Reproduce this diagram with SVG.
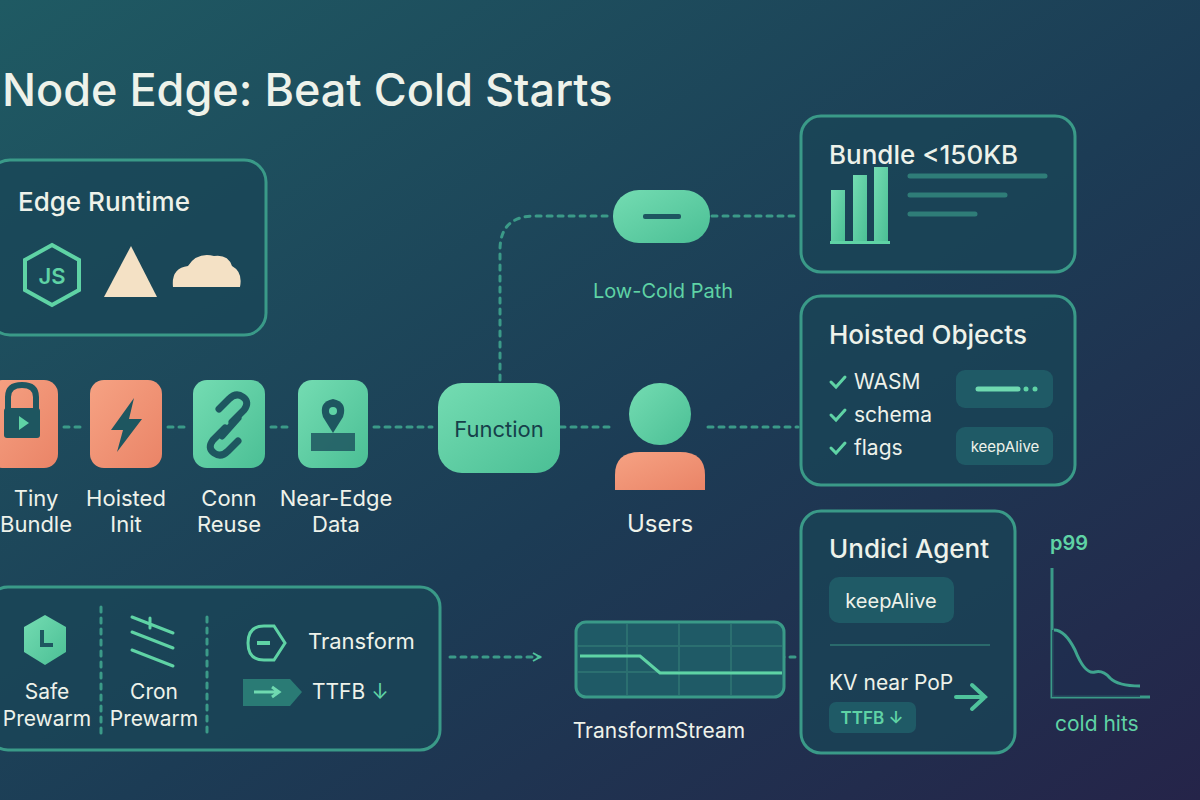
<svg xmlns="http://www.w3.org/2000/svg" width="1200" height="800" viewBox="0 0 1200 800">
<defs>
<linearGradient id="bg" x1="0" y1="0" x2="1" y2="1"><stop offset="0" stop-color="#1f5a63"/><stop offset="0.55" stop-color="#1c3c55"/><stop offset="1" stop-color="#252449"/></linearGradient>
<linearGradient id="gr" x1="0" y1="0" x2="1" y2="1"><stop offset="0" stop-color="#74dcb2"/><stop offset="1" stop-color="#4bbf95"/></linearGradient>
<linearGradient id="sa" x1="0" y1="0" x2="1" y2="1"><stop offset="0" stop-color="#f6a283"/><stop offset="1" stop-color="#ea8467"/></linearGradient>
<marker id="chev" viewBox="0 0 10 10" refX="8" refY="5" markerWidth="10" markerHeight="10" markerUnits="userSpaceOnUse" orient="auto"><path d="M1 1 L8 5 L1 9" fill="none" stroke="#4fc39c" stroke-width="2"/></marker>
<style>
.box{fill:#1a4657;fill-opacity:.75;stroke:#3a9a88;stroke-width:3}
.t{font-family:Inter,"Noto Sans",sans-serif;fill:#eef2ea}
.g{fill:#5fd3a5}
.dot{fill:none;stroke:#3b9a88;stroke-width:3;stroke-dasharray:5 6;stroke-linecap:round}
.pill{fill:#1f5a66}
.ln{stroke:#2f7d78;stroke-width:5;stroke-linecap:round}
</style>
</defs>
<rect width="1200" height="800" fill="url(#bg)"/>
<text class="t" x="2" y="106" font-size="45" font-weight="500">Node Edge: Beat Cold Starts</text>

<g id="connectors">
<path class="dot" d="M64 427H84M168 427H187M271 427H292M374 427H432M560 427H612M708 427H798"/>
<path class="dot" d="M500 380V250Q500 216 535 216H612M712 216H798"/>
<path class="dot" d="M450 657H540" marker-end="url(#chev)"/>
<path class="dot" d="M768 657H798"/>
</g>

<g id="edge-runtime">
<rect class="box" x="-12" y="160" width="278" height="175" rx="22"/>
<text class="t" x="18" y="211" font-size="26" font-weight="500">Edge Runtime</text>
<polygon points="52,245 79,260 79,290 52,305 25,290 25,260" fill="none" stroke="#5fd3a5" stroke-width="4"/>
<text x="52" y="284" font-family="Inter,sans-serif" font-size="22" text-anchor="middle" fill="#5fd3a5" font-weight="600">JS</text>
<polygon points="131,246 157,297 104,297" fill="#f4e1c5"/>
<path d="M173 287Q171 268 188 266Q197 252 214 256Q228 254 232 266Q243 272 240 287Z" fill="#f4e1c5"/>
</g>

<g id="tiny-bundle">
<rect x="-12" y="380" width="70" height="88" rx="14" fill="url(#sa)"/>
<path d="M8 410V397Q8 385 22 385Q36 385 36 397V410" fill="none" stroke="#1e5660" stroke-width="6"/>
<rect x="4" y="408" width="36" height="30" rx="3" fill="#1e5660"/>
<polygon points="19,416 29,423 19,430" fill="#5fd3a5"/>
<text class="t" x="36" y="506" font-size="22" text-anchor="middle">Tiny</text>
<text class="t" x="36" y="532" font-size="22" text-anchor="middle">Bundle</text>
</g>
<g id="hoisted-init">
<rect x="90" y="380" width="72" height="88" rx="14" fill="url(#sa)"/>
<polygon points="134,398 111,430 123,430 117,452 142,419 129,419" fill="#1e5660"/>
<text class="t" x="126" y="506" font-size="22" text-anchor="middle">Hoisted</text>
<text class="t" x="126" y="532" font-size="22" text-anchor="middle">Init</text>
</g>
<g id="conn-reuse">
<rect x="193" y="380" width="72" height="88" rx="14" fill="url(#gr)"/>
<g fill="none" stroke="#1e5660" stroke-width="7" stroke-linecap="round">
<path d="M225 428L213 440Q207 448 214 453Q221 458 228 451L238 441"/>
<path d="M232 422L244 410Q250 402 243 397Q236 392 229 399L219 409"/>
<path d="M222 436L238 418"/>
</g>
<text class="t" x="229" y="506" font-size="22" text-anchor="middle">Conn</text>
<text class="t" x="229" y="532" font-size="22" text-anchor="middle">Reuse</text>
</g>
<g id="near-edge-data">
<rect x="298" y="380" width="70" height="88" rx="14" fill="url(#gr)"/>
<path d="M333 433L323 417Q318 402 333 399Q348 402 343 417Z" fill="#1e5660"/>
<circle cx="333" cy="411" r="4" fill="#5fd3a5"/>
<rect x="311" y="433" width="44" height="18" fill="#1e5660" opacity=".85"/>
<text class="t" x="336" y="506" font-size="22" text-anchor="middle">Near-Edge</text>
<text class="t" x="336" y="532" font-size="22" text-anchor="middle">Data</text>
</g>

<g id="function">
<rect x="438" y="383" width="122" height="90" rx="24" fill="url(#gr)"/>
<text x="499" y="437" font-family="Inter,sans-serif" font-size="22" text-anchor="middle" fill="#163f4a">Function</text>
</g>

<g id="low-cold-path">
<rect x="613" y="190" width="97" height="53" rx="26" fill="url(#gr)"/>
<rect x="643" y="214" width="38" height="5" rx="2" fill="#1e5660"/>
<text x="663" y="298" font-family="Inter,sans-serif" font-size="20" text-anchor="middle" fill="#5fd3a5">Low-Cold Path</text>
</g>

<g id="users">
<circle cx="660" cy="414" r="31" fill="url(#gr)"/>
<path d="M615 490V475Q615 452 640 452H680Q705 452 705 475V490Z" fill="url(#sa)"/>
<text class="t" x="660" y="532" font-size="24" text-anchor="middle">Users</text>
</g>

<g id="bundle">
<rect class="box" x="801" y="116" width="274" height="156" rx="20"/>
<text class="t" x="829" y="164" font-size="26" font-weight="500">Bundle &lt;150KB</text>
<rect x="831" y="190" width="14" height="52" fill="url(#gr)"/>
<rect x="853" y="175" width="14" height="67" fill="url(#gr)"/>
<rect x="874" y="167" width="14" height="75" fill="url(#gr)"/>
<rect x="830" y="241" width="60" height="3" fill="#5fd3a5"/>
<path class="ln" d="M910 176H1045M910 195H1005M910 214H975"/>
</g>

<g id="hoisted-objects">
<rect class="box" x="801" y="296" width="274" height="189" rx="20"/>
<text class="t" x="829" y="344" font-size="26" font-weight="500">Hoisted Objects</text>
<g fill="none" stroke="#5fd3a5" stroke-width="3" stroke-linecap="round">
<path d="M831 382L836 387L845 377M831 415L836 420L845 410M831 448L836 453L845 443"/>
</g>
<text class="t" x="854" y="389" font-size="21">WASM</text>
<text class="t" x="854" y="422" font-size="21">schema</text>
<text class="t" x="854" y="455" font-size="21">flags</text>
<rect class="pill" x="956" y="370" width="97" height="38" rx="9"/>
<path d="M978 389H1018" stroke="#6fd9b0" stroke-width="5" stroke-linecap="round"/>
<circle cx="1026" cy="389" r="2.5" fill="#5fd3a5"/><circle cx="1035" cy="389" r="2.5" fill="#5fd3a5"/>
<rect class="pill" x="956" y="427" width="97" height="38" rx="9"/>
<text class="t" x="1005" y="452" font-size="15" text-anchor="middle">keepAlive</text>
</g>

<g id="undici-agent">
<rect class="box" x="801" y="511" width="214" height="242" rx="20"/>
<text class="t" x="829" y="558" font-size="26" font-weight="500">Undici Agent</text>
<rect class="pill" x="829" y="577" width="125" height="46" rx="10"/>
<text class="t" x="891" y="608" font-size="20" text-anchor="middle">keepAlive</text>
<path d="M830 645H990" stroke="#2a6a6c" stroke-width="2"/>
<text class="t" x="829" y="690" font-size="21">KV near PoP</text>
<rect class="pill" x="829" y="702" width="87" height="31" rx="7"/>
<text x="872" y="724" font-family="Inter,sans-serif" font-size="17" text-anchor="middle" fill="#5fd3a5" font-weight="600">TTFB ↓</text>
<path d="M956 697H985M972 685L985 697L972 709" fill="none" stroke="#4fc39c" stroke-width="4" stroke-linecap="round"/>
</g>

<g id="chart">
<text x="1050" y="550" font-family="Inter,sans-serif" font-size="20" fill="#5fd3a5" font-weight="600">p99</text>
<path d="M1052 568V697H1150" fill="none" stroke="#3a9a88" stroke-width="3"/>
<path d="M1052 697V630Q1065 630 1075 650Q1088 680 1095 672Q1103 670 1110 678Q1118 686 1140 686V697Z" fill="#1e2f50" opacity=".7"/>
<path d="M1054 630Q1065 630 1075 650Q1085 675 1095 672Q1103 670 1110 678Q1118 686 1140 686" fill="none" stroke="#3fa58f" stroke-width="3"/>
<text x="1055" y="731" font-family="Inter,sans-serif" font-size="21" fill="#5fd3a5">cold hits</text>
</g>

<g id="prewarm">
<rect class="box" x="-12" y="587" width="452" height="163" rx="20"/>
<polygon points="45,615 66,627 66,652 45,665 24,652 24,627" fill="url(#gr)"/>
<path d="M42 630V645H53" fill="none" stroke="#1e5660" stroke-width="4"/>
<text class="t" x="47" y="699" font-size="21" text-anchor="middle">Safe</text>
<text class="t" x="47" y="726" font-size="21" text-anchor="middle">Prewarm</text>
<path class="dot" d="M101 607V735M207 617V735" stroke-width="2"/>
<path d="M132 617L173 633M132 632L173 648M132 650L173 666M150 618V628" stroke="#5fd3a5" stroke-width="3" stroke-linecap="round"/>
<text class="t" x="154" y="699" font-size="21" text-anchor="middle">Cron</text>
<text class="t" x="154" y="726" font-size="21" text-anchor="middle">Prewarm</text>
<path d="M248 643Q248 626 264 626L274 626L285 643L274 660L264 660Q248 660 248 643Z" fill="none" stroke="#5fd3a5" stroke-width="3"/>
<rect x="257" y="641" width="13" height="4" fill="#5fd3a5"/>
<text class="t" x="308" y="649" font-size="22">Transform</text>
<polygon points="243,679 290,679 302,692 290,706 243,706" fill="#2a7b75"/>
<path d="M254 692H278M272 687L279 692L272 697" fill="none" stroke="#6fd9b0" stroke-width="3"/>
<text class="t" x="312" y="699" font-size="21">TTFB <tspan fill="#5fd3a5">↓</tspan></text>
</g>

<g id="transformstream">
<rect x="576" y="622" width="208" height="75" rx="10" fill="#1f5a66" stroke="#3a9a88" stroke-width="3"/>
<path d="M627 624V695M679 624V695M731 624V695M578 646H782M578 672H782" stroke="#2b6f70" stroke-width="2"/>
<path d="M580 656H640L660 673H782" fill="none" stroke="#5fd3a5" stroke-width="3"/>
<text class="t" x="659" y="738" font-size="21" text-anchor="middle">TransformStream</text>
</g>
</svg>
